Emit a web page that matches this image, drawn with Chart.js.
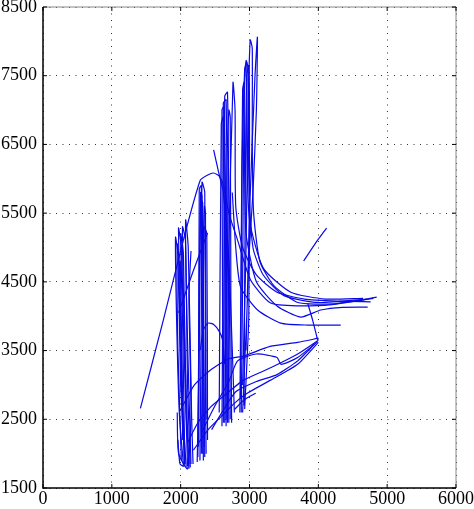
<!DOCTYPE html>
<html>
<head>
<meta charset="utf-8">
<script src="https://cdn.jsdelivr.net/npm/chart.js@4"></script>
<style>
html, body { margin: 0; padding: 0; background: #fff; }
</style>
</head>
<body>
<canvas id="chart" width="474" height="509"></canvas>
<script>
// tick labels
const xTicks = [0, 1000, 2000, 3000, 4000, 5000, 6000];
const yTicks = [1500, 2500, 3500, 4500, 5500, 6500, 7500, 8500];

// trajectories, [x, y] pairs
// cluster near 2000 (peaks ~5200)
const trackA1 = [[2040,1830],[1980,2600],[1940,4000],[1925,5150],[1960,4900],[2000,3000],[2060,1850]];
const trackA2 = [[2080,1800],[2010,3000],[1968,5280],[2010,5000],[2050,3500],[2100,1820]];
const trackA3 = [[2120,1780],[2060,3500],[2026,5300],[2070,5100],[2100,3000],[2140,1800]];
const trackA4 = [[2150,1850],[2090,4000],[2072,5400],[2110,5000],[2160,2500],[2180,1850]];
const trackA5 = [[1960,2200],[1990,1850],[2050,1820],[2030,2700],[1995,4800]];
const trackA6 = [[1950,2600],[1970,2000],[2100,1780],[2150,2600],[2120,4300],[2150,4950]];
const trackA7 = [[2010,1900],[1960,3500],[1950,5050],[1985,4700],[2030,2200]];
const trackA8 = [[2060,1850],[2030,3800],[2000,5200],[2040,4900],[2080,2600],[2120,1850]];
// cluster near 2300 (peaks ~5900)
const trackB1 = [[2240,1880],[2260,3000],[2270,5850],[2300,5900],[2320,3000],[2330,1900]];
const trackB2 = [[2280,1900],[2300,4000],[2310,5950],[2350,5800],[2360,3000],[2370,2000]];
const trackB3 = [[2260,2100],[2290,5700],[2320,5650],[2340,2100]];
const trackB4 = [[2300,2000],[2340,5300],[2380,5200],[2390,2200]];
const trackB5 = [[2250,1950],[2270,4500],[2290,5800],[2310,5750],[2330,4000],[2350,1950]];
const trackB6 = [[2320,2000],[2330,5000],[2345,5600],[2360,5500],[2370,2500]];
// long straight run, arc and its tail
const trackArc = [[1415,2660],[1750,3950],[2050,5150],[2286,5982],[2400,6060],[2479,6084],[2560,6040],[2624,5900],[2700,5500],[2827,5108],[3016,4526],[3307,4191],[3700,4150],[4200,4170],[4600,4230],[4848,4279]];
const trackDiag = [[1970,4050],[2180,4650],[2390,5210]];
// cluster near 2650 (peaks ~7000-7400)
const trackC1 = [[2600,2400],[2610,4000],[2600,7000],[2630,7050],[2660,5000],[2680,2450]];
const trackC2 = [[2640,2450],[2650,5000],[2640,7200],[2680,7260],[2700,5500],[2720,2500]];
const trackC3 = [[2680,2500],[2700,5000],[2760,7400],[2790,7000],[2800,5600],[2900,5000],[3100,4600],[3400,4350],[3800,4250],[4300,4220],[4760,4210]];
const trackC4 = [[2560,2600],[2590,6800],[2620,6900],[2650,3500],[2660,2500]];
const trackC5 = [[2479,6420],[2550,6100],[2620,5800],[2700,4800],[2750,3500],[2780,2600]];
const trackC6 = [[2620,2450],[2630,5500],[2620,7100],[2660,7150],[2680,5000],[2700,2450]];
const trackC7 = [[2660,2400],[2670,6000],[2700,7000],[2720,6900],[2730,4000],[2740,2450]];
// cluster near 3000 (peaks ~7700-8050)
const trackD1 = [[2880,2600],[2900,4500],[2920,7000],[2950,7720],[2980,7600],[2990,6000],[3050,5000],[3200,4600],[3500,4300],[4000,4200],[4700,4250]];
const trackD2 = [[2900,3000],[2950,5000],[2980,7000],[3010,8020],[3040,7900],[3040,6500],[3060,5500],[3150,4800],[3350,4450],[3700,4200],[4200,4180],[4800,4260]];
const trackD3 = [[2950,3500],[3000,5500],[3080,7500],[3115,8060],[3100,7000],[3050,5800],[3000,5000],[2960,4000],[2900,2600]];
const trackD4 = [[2860,2600],[2880,5000],[2900,7300],[2920,7400],[2930,6000],[2950,5200],[3100,4500],[3400,4150],[3743,3988],[4034,4090],[4350,4130],[4717,4133]];
const trackD5 = [[2920,2700],[2940,6000],[2960,7500],[2990,7650],[3000,6800],[2990,4000],[2930,2650]];
const trackD6 = [[2870,2800],[2890,6000],[2930,7600],[2960,7700],[2960,6500],[3000,5400],[3200,4700],[3600,4350],[4100,4250],[4650,4260]];
const trackE1 = [[2750,5800],[2800,5000],[2871,4424],[3118,4090],[3452,3900],[3845,3871],[4325,3871]];
const trackLink = [[3845,4191],[3917,3944],[3990,3653]];
// lower rising curves meeting near (4000, 3650)
const trackL1 = [[1997,2634],[2200,3000],[2434,3216],[2700,3380],[2914,3420],[3300,3560],[3700,3620],[4000,3680]];
const trackL2 = [[2098,2154],[2250,2450],[2434,2678],[2700,2900],[2914,3070],[3307,3250],[3700,3450],[4000,3650]];
const trackL3 = [[2186,2052],[2400,2350],[2580,2532],[2800,2750],[2972,2882],[3307,3070],[3700,3300],[4000,3620]];
const trackL4 = [[2300,2300],[2500,2700],[2700,3050],[2827,3350],[3100,3450],[3400,3400],[3460,3300],[3700,3400],[3990,3630]];
const trackL5 = [[2450,2350],[2600,2600],[2800,2900],[3100,3050],[3400,3150],[3700,3350],[3950,3600]];
const trackArcLow = [[2285,3507],[2330,3800],[2400,3900],[2480,3880],[2560,3780],[2610,3653],[2640,3300]];
const trackShort1 = [[3786,4803],[3950,5050],[4120,5283]];
const trackShort2 = [[2780,2640],[2920,2780],[3090,2880]];

const tracks = [trackA1, trackA2, trackA3, trackA4, trackA5, trackA6, trackA7, trackA8,
  trackB1, trackB2, trackB3, trackB4, trackB5, trackB6, trackArc, trackDiag,
  trackC1, trackC2, trackC3, trackC4, trackC5, trackC6, trackC7,
  trackD1, trackD2, trackD3, trackD4, trackD5, trackD6, trackE1, trackLink,
  trackL1, trackL2, trackL3, trackL4, trackL5, trackArcLow, trackShort1, trackShort2];

const datasets = tracks.map(t => ({
  data: t.map(p => ({ x: p[0], y: p[1] })),
  showLine: true,
  borderColor: 'rgb(10,10,230)',
  borderWidth: 1.2,
  pointRadius: 0,
  tension: 0.2,
  fill: false
}));

// box round the plot with short inward ticks
const frame = {
  id: 'frame',
  afterDraw(chart) {
    const { ctx, chartArea: a, scales: { x, y } } = chart;
    ctx.save();
    ctx.lineWidth = 1;
    ctx.strokeStyle = '#888';
    ctx.beginPath();
    ctx.moveTo(a.left, a.top); ctx.lineTo(a.right, a.top); ctx.lineTo(a.right, a.bottom);
    ctx.stroke();
    ctx.strokeStyle = '#000';
    ctx.lineWidth = 1.5;
    ctx.beginPath();
    ctx.moveTo(a.left, a.top); ctx.lineTo(a.left, a.bottom); ctx.lineTo(a.right, a.bottom);
    ctx.stroke();
    ctx.lineWidth = 1;
    ctx.beginPath();
    xTicks.forEach(v => {
      const px = x.getPixelForValue(v);
      ctx.moveTo(px, a.bottom); ctx.lineTo(px, a.bottom - 4);
      ctx.moveTo(px, a.top); ctx.lineTo(px, a.top + 4);
    });
    yTicks.forEach(v => {
      const py = y.getPixelForValue(v);
      ctx.moveTo(a.left, py); ctx.lineTo(a.left + 4, py);
      ctx.moveTo(a.right, py); ctx.lineTo(a.right - 4, py);
    });
    ctx.stroke();
    ctx.restore();
  }
};

const font = { family: 'Liberation Serif', size: 18 };

new Chart(document.getElementById('chart'), {
  type: 'scatter',
  data: { datasets: datasets },
  options: {
    responsive: false,
    animation: false,
    layout: { padding: { top: 7, right: 18, left: 0, bottom: 0 } },
    plugins: { legend: { display: false }, tooltip: { enabled: false } },
    scales: {
      x: {
        type: 'linear',
        min: 0, max: 6000,
        afterBuildTicks: s => { s.ticks = xTicks.map(v => ({ value: v })); },
        afterFit: s => { s.height = 21; s.paddingLeft = 0; s.paddingRight = 0; },
        ticks: { font: font, color: '#000', padding: 0, maxRotation: 0, autoSkip: false, callback: v => String(v) },
        grid: { color: '#333', lineWidth: 1, drawTicks: false },
        border: { display: false, dash: [1, 5.5] }
      },
      y: {
        type: 'linear',
        min: 1500, max: 8500,
        afterBuildTicks: s => { s.ticks = yTicks.map(v => ({ value: v })); },
        afterFit: s => { s.width = 43; s.paddingTop = 0; s.paddingBottom = 0; },
        ticks: { font: font, color: '#000', padding: 6, autoSkip: false, callback: v => String(v) },
        grid: { color: '#333', lineWidth: 1, drawTicks: false },
        border: { display: false, dash: [1, 5.5] }
      }
    }
  },
  plugins: [frame]
});
</script>
</body>
</html>
